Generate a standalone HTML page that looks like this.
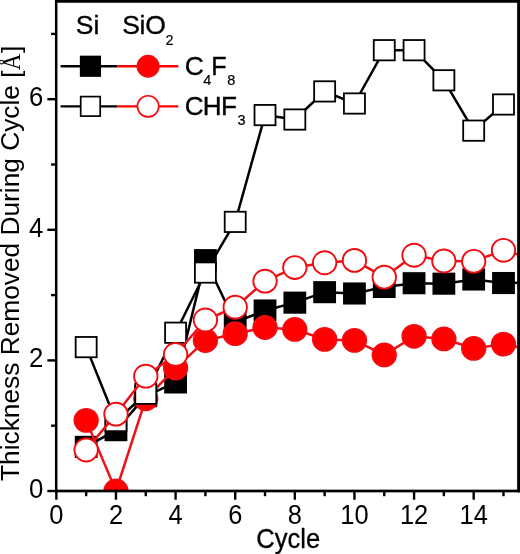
<!DOCTYPE html>
<html><head><meta charset="utf-8"><title>Thickness Removed During Cycle</title>
<style>
html,body{margin:0;padding:0;background:#fff;}
svg{display:block;}
text{font-family:"Liberation Sans",Arial,sans-serif;font-size:26.5px;fill:#000;}
</style></head><body>
<svg width="520" height="554" viewBox="0 0 520 554">
<defs><clipPath id="pc"><rect x="56.35" y="1.2" width="462.25" height="489.8"/></clipPath></defs>
<rect width="520" height="554" fill="#fff"/>
<g clip-path="url(#pc)">
<polyline points="86.16,446.86 115.97,430.18 145.78,396.17 175.59,382.44 205.40,260.14 235.21,322.27 265.02,310.50 294.83,302.65 324.64,292.18 354.45,293.49 384.26,286.95 414.07,283.22 443.88,283.68 473.69,279.50 503.50,283.03 533.31,282.70" fill="none" stroke="#000" stroke-width="2.5" stroke-linejoin="round"/>
<rect x="75.66" y="436.71" width="21.0" height="20.3" fill="#000" stroke="#000" stroke-width="1.8"/>
<rect x="105.47" y="420.03" width="21.0" height="20.3" fill="#000" stroke="#000" stroke-width="1.8"/>
<rect x="135.28" y="386.02" width="21.0" height="20.3" fill="#000" stroke="#000" stroke-width="1.8"/>
<rect x="165.09" y="372.29" width="21.0" height="20.3" fill="#000" stroke="#000" stroke-width="1.8"/>
<rect x="194.90" y="249.99" width="21.0" height="20.3" fill="#000" stroke="#000" stroke-width="1.8"/>
<rect x="224.71" y="312.12" width="21.0" height="20.3" fill="#000" stroke="#000" stroke-width="1.8"/>
<rect x="254.52" y="300.35" width="21.0" height="20.3" fill="#000" stroke="#000" stroke-width="1.8"/>
<rect x="284.33" y="292.50" width="21.0" height="20.3" fill="#000" stroke="#000" stroke-width="1.8"/>
<rect x="314.14" y="282.03" width="21.0" height="20.3" fill="#000" stroke="#000" stroke-width="1.8"/>
<rect x="343.95" y="283.34" width="21.0" height="20.3" fill="#000" stroke="#000" stroke-width="1.8"/>
<rect x="373.76" y="276.80" width="21.0" height="20.3" fill="#000" stroke="#000" stroke-width="1.8"/>
<rect x="403.57" y="273.07" width="21.0" height="20.3" fill="#000" stroke="#000" stroke-width="1.8"/>
<rect x="433.38" y="273.53" width="21.0" height="20.3" fill="#000" stroke="#000" stroke-width="1.8"/>
<rect x="463.19" y="269.35" width="21.0" height="20.3" fill="#000" stroke="#000" stroke-width="1.8"/>
<rect x="493.00" y="272.88" width="21.0" height="20.3" fill="#000" stroke="#000" stroke-width="1.8"/>
<polyline points="86.16,420.37 115.97,491.00 145.78,398.79 175.59,368.05 205.40,340.58 235.21,333.71 265.02,327.50 294.83,329.46 324.64,339.40 354.45,340.38 384.26,354.97 414.07,336.33 443.88,338.94 473.69,348.43 503.50,344.11 533.31,350.39" fill="none" stroke="#ee1018" stroke-width="2.5" stroke-linejoin="round"/>
<ellipse cx="86.16" cy="420.37" rx="11.7" ry="11.45" fill="#ff0000" stroke="#f20c10" stroke-width="1.9"/>
<ellipse cx="115.97" cy="491.00" rx="11.7" ry="11.45" fill="#ff0000" stroke="#f20c10" stroke-width="1.9"/>
<ellipse cx="145.78" cy="398.79" rx="11.7" ry="11.45" fill="#ff0000" stroke="#f20c10" stroke-width="1.9"/>
<ellipse cx="175.59" cy="368.05" rx="11.7" ry="11.45" fill="#ff0000" stroke="#f20c10" stroke-width="1.9"/>
<ellipse cx="205.40" cy="340.58" rx="11.7" ry="11.45" fill="#ff0000" stroke="#f20c10" stroke-width="1.9"/>
<ellipse cx="235.21" cy="333.71" rx="11.7" ry="11.45" fill="#ff0000" stroke="#f20c10" stroke-width="1.9"/>
<ellipse cx="265.02" cy="327.50" rx="11.7" ry="11.45" fill="#ff0000" stroke="#f20c10" stroke-width="1.9"/>
<ellipse cx="294.83" cy="329.46" rx="11.7" ry="11.45" fill="#ff0000" stroke="#f20c10" stroke-width="1.9"/>
<ellipse cx="324.64" cy="339.40" rx="11.7" ry="11.45" fill="#ff0000" stroke="#f20c10" stroke-width="1.9"/>
<ellipse cx="354.45" cy="340.38" rx="11.7" ry="11.45" fill="#ff0000" stroke="#f20c10" stroke-width="1.9"/>
<ellipse cx="384.26" cy="354.97" rx="11.7" ry="11.45" fill="#ff0000" stroke="#f20c10" stroke-width="1.9"/>
<ellipse cx="414.07" cy="336.33" rx="11.7" ry="11.45" fill="#ff0000" stroke="#f20c10" stroke-width="1.9"/>
<ellipse cx="443.88" cy="338.94" rx="11.7" ry="11.45" fill="#ff0000" stroke="#f20c10" stroke-width="1.9"/>
<ellipse cx="473.69" cy="348.43" rx="11.7" ry="11.45" fill="#ff0000" stroke="#f20c10" stroke-width="1.9"/>
<ellipse cx="503.50" cy="344.11" rx="11.7" ry="11.45" fill="#ff0000" stroke="#f20c10" stroke-width="1.9"/>
<polyline points="86.16,347.12 115.97,421.02 145.78,393.75 175.59,332.73 205.40,272.56 235.21,221.88 265.02,115.08 294.83,119.53 324.64,91.41 354.45,103.50 384.26,50.20 414.07,50.20 443.88,80.29 473.69,130.65 503.50,104.49" fill="none" stroke="#000" stroke-width="2.5" stroke-linejoin="round"/>
<rect x="75.66" y="336.97" width="21.0" height="20.3" fill="#fff" stroke="#000" stroke-width="1.8"/>
<rect x="105.47" y="410.87" width="21.0" height="20.3" fill="#fff" stroke="#000" stroke-width="1.8"/>
<rect x="135.28" y="383.60" width="21.0" height="20.3" fill="#fff" stroke="#000" stroke-width="1.8"/>
<rect x="165.09" y="322.58" width="21.0" height="20.3" fill="#fff" stroke="#000" stroke-width="1.8"/>
<rect x="194.90" y="262.41" width="21.0" height="20.3" fill="#fff" stroke="#000" stroke-width="1.8"/>
<rect x="224.71" y="211.73" width="21.0" height="20.3" fill="#fff" stroke="#000" stroke-width="1.8"/>
<rect x="254.52" y="104.93" width="21.0" height="20.3" fill="#fff" stroke="#000" stroke-width="1.8"/>
<rect x="284.33" y="109.38" width="21.0" height="20.3" fill="#fff" stroke="#000" stroke-width="1.8"/>
<rect x="314.14" y="81.26" width="21.0" height="20.3" fill="#fff" stroke="#000" stroke-width="1.8"/>
<rect x="343.95" y="93.35" width="21.0" height="20.3" fill="#fff" stroke="#000" stroke-width="1.8"/>
<rect x="373.76" y="40.05" width="21.0" height="20.3" fill="#fff" stroke="#000" stroke-width="1.8"/>
<rect x="403.57" y="40.05" width="21.0" height="20.3" fill="#fff" stroke="#000" stroke-width="1.8"/>
<rect x="433.38" y="70.14" width="21.0" height="20.3" fill="#fff" stroke="#000" stroke-width="1.8"/>
<rect x="463.19" y="120.50" width="21.0" height="20.3" fill="#fff" stroke="#000" stroke-width="1.8"/>
<rect x="493.00" y="94.34" width="21.0" height="20.3" fill="#fff" stroke="#000" stroke-width="1.8"/>
<polyline points="86.16,449.99 115.97,414.15 145.78,376.22 175.59,354.51 205.40,319.98 235.21,307.23 265.02,281.20 294.83,267.59 324.64,262.75 354.45,260.40 384.26,277.14 414.07,255.23 443.88,260.99 473.69,261.32 503.50,250.33 533.31,258.83" fill="none" stroke="#ee1018" stroke-width="2.5" stroke-linejoin="round"/>
<ellipse cx="86.16" cy="449.99" rx="11.7" ry="11.45" fill="#fff" stroke="#f20c10" stroke-width="1.9"/>
<ellipse cx="115.97" cy="414.15" rx="11.7" ry="11.45" fill="#fff" stroke="#f20c10" stroke-width="1.9"/>
<ellipse cx="145.78" cy="376.22" rx="11.7" ry="11.45" fill="#fff" stroke="#f20c10" stroke-width="1.9"/>
<ellipse cx="175.59" cy="354.51" rx="11.7" ry="11.45" fill="#fff" stroke="#f20c10" stroke-width="1.9"/>
<ellipse cx="205.40" cy="319.98" rx="11.7" ry="11.45" fill="#fff" stroke="#f20c10" stroke-width="1.9"/>
<ellipse cx="235.21" cy="307.23" rx="11.7" ry="11.45" fill="#fff" stroke="#f20c10" stroke-width="1.9"/>
<ellipse cx="265.02" cy="281.20" rx="11.7" ry="11.45" fill="#fff" stroke="#f20c10" stroke-width="1.9"/>
<ellipse cx="294.83" cy="267.59" rx="11.7" ry="11.45" fill="#fff" stroke="#f20c10" stroke-width="1.9"/>
<ellipse cx="324.64" cy="262.75" rx="11.7" ry="11.45" fill="#fff" stroke="#f20c10" stroke-width="1.9"/>
<ellipse cx="354.45" cy="260.40" rx="11.7" ry="11.45" fill="#fff" stroke="#f20c10" stroke-width="1.9"/>
<ellipse cx="384.26" cy="277.14" rx="11.7" ry="11.45" fill="#fff" stroke="#f20c10" stroke-width="1.9"/>
<ellipse cx="414.07" cy="255.23" rx="11.7" ry="11.45" fill="#fff" stroke="#f20c10" stroke-width="1.9"/>
<ellipse cx="443.88" cy="260.99" rx="11.7" ry="11.45" fill="#fff" stroke="#f20c10" stroke-width="1.9"/>
<ellipse cx="473.69" cy="261.32" rx="11.7" ry="11.45" fill="#fff" stroke="#f20c10" stroke-width="1.9"/>
<ellipse cx="503.50" cy="250.33" rx="11.7" ry="11.45" fill="#fff" stroke="#f20c10" stroke-width="1.9"/>
</g>
<rect x="54.95" y="0" width="2.5" height="492.35" fill="#000"/>
<rect x="54.95" y="0" width="465.05" height="2.75" fill="#000"/>
<rect x="517.15" y="0" width="2.85" height="492.35" fill="#000"/>
<rect x="54.95" y="489.65" width="465.05" height="2.7" fill="#000"/>
<line x1="56.35" y1="491.0" x2="56.35" y2="499.7" stroke="#000" stroke-width="2.4"/>
<line x1="86.16" y1="491.0" x2="86.16" y2="496.2" stroke="#000" stroke-width="2.4"/>
<line x1="115.97" y1="491.0" x2="115.97" y2="499.7" stroke="#000" stroke-width="2.4"/>
<line x1="145.78" y1="491.0" x2="145.78" y2="496.2" stroke="#000" stroke-width="2.4"/>
<line x1="175.59" y1="491.0" x2="175.59" y2="499.7" stroke="#000" stroke-width="2.4"/>
<line x1="205.40" y1="491.0" x2="205.40" y2="496.2" stroke="#000" stroke-width="2.4"/>
<line x1="235.21" y1="491.0" x2="235.21" y2="499.7" stroke="#000" stroke-width="2.4"/>
<line x1="265.02" y1="491.0" x2="265.02" y2="496.2" stroke="#000" stroke-width="2.4"/>
<line x1="294.83" y1="491.0" x2="294.83" y2="499.7" stroke="#000" stroke-width="2.4"/>
<line x1="324.64" y1="491.0" x2="324.64" y2="496.2" stroke="#000" stroke-width="2.4"/>
<line x1="354.45" y1="491.0" x2="354.45" y2="499.7" stroke="#000" stroke-width="2.4"/>
<line x1="384.26" y1="491.0" x2="384.26" y2="496.2" stroke="#000" stroke-width="2.4"/>
<line x1="414.07" y1="491.0" x2="414.07" y2="499.7" stroke="#000" stroke-width="2.4"/>
<line x1="443.88" y1="491.0" x2="443.88" y2="496.2" stroke="#000" stroke-width="2.4"/>
<line x1="473.69" y1="491.0" x2="473.69" y2="499.7" stroke="#000" stroke-width="2.4"/>
<line x1="503.50" y1="491.0" x2="503.50" y2="496.2" stroke="#000" stroke-width="2.4"/>
<line x1="56.35" y1="491.00" x2="47.35" y2="491.00" stroke="#000" stroke-width="2.4"/>
<line x1="56.35" y1="425.70" x2="51.050000000000004" y2="425.70" stroke="#000" stroke-width="2.4"/>
<line x1="56.35" y1="360.40" x2="47.35" y2="360.40" stroke="#000" stroke-width="2.4"/>
<line x1="56.35" y1="295.10" x2="51.050000000000004" y2="295.10" stroke="#000" stroke-width="2.4"/>
<line x1="56.35" y1="229.80" x2="47.35" y2="229.80" stroke="#000" stroke-width="2.4"/>
<line x1="56.35" y1="164.50" x2="51.050000000000004" y2="164.50" stroke="#000" stroke-width="2.4"/>
<line x1="56.35" y1="99.20" x2="47.35" y2="99.20" stroke="#000" stroke-width="2.4"/>
<line x1="56.35" y1="33.90" x2="51.050000000000004" y2="33.90" stroke="#000" stroke-width="2.4"/>
<text transform="translate(56.35,523.9) scale(0.96,1.04)" text-anchor="middle">0</text>
<text transform="translate(115.97,523.9) scale(0.96,1.04)" text-anchor="middle">2</text>
<text transform="translate(175.59,523.9) scale(0.96,1.04)" text-anchor="middle">4</text>
<text transform="translate(235.21,523.9) scale(0.96,1.04)" text-anchor="middle">6</text>
<text transform="translate(294.83,523.9) scale(0.96,1.04)" text-anchor="middle">8</text>
<text transform="translate(354.45,523.9) scale(0.96,1.04)" text-anchor="middle">10</text>
<text transform="translate(414.07,523.9) scale(0.96,1.04)" text-anchor="middle">12</text>
<text transform="translate(473.69,523.9) scale(0.96,1.04)" text-anchor="middle">14</text>
<text transform="translate(43.3,497.9) scale(0.97,1.04)" text-anchor="end">0</text>
<text transform="translate(43.3,367.3) scale(0.97,1.04)" text-anchor="end">2</text>
<text transform="translate(43.3,236.7) scale(0.97,1.04)" text-anchor="end">4</text>
<text transform="translate(43.3,106.1) scale(0.97,1.04)" text-anchor="end">6</text>
<text transform="translate(288.3,548) scale(0.965,1.04)" text-anchor="middle" stroke="#000" stroke-width="0.3">Cycle</text>
<text transform="translate(19.2,481) rotate(-90) scale(1,0.95)" text-anchor="start" style="font-size:26.3px">Thickness Removed During Cycle</text>
<text transform="translate(20.2,77.8) rotate(-90) scale(1,0.97)" text-anchor="start" style="font-size:26.3px">[</text>
<text transform="translate(20.4,61.9) rotate(-90) scale(1,1.05)" text-anchor="middle" style="font-family:'Liberation Serif',serif;font-size:23px">Å</text>
<text transform="translate(20.2,45.8) rotate(-90) scale(1,0.97)" text-anchor="end" style="font-size:26.3px">]</text>
<text transform="translate(75.7,34.2) scale(1,1.0)" text-anchor="start" stroke="#000" stroke-width="0.35">Si</text>
<text transform="translate(122.2,34.2) scale(1,1.0)" text-anchor="start" letter-spacing="-0.3" stroke="#000" stroke-width="0.35">SiO</text>
<text transform="translate(165.6,44.6) scale(1,1.0)" text-anchor="start" style="font-size:14.5px" stroke="#000" stroke-width="0.2">2</text>
<line x1="60.6" y1="66.25" x2="117.5" y2="66.25" stroke="#000" stroke-width="2.3"/>
<line x1="117.5" y1="66.25" x2="178.3" y2="66.25" stroke="#ff0000" stroke-width="2.3"/>
<rect x="80.7" y="56.5" width="19.5" height="19.5" fill="#000" stroke="#000" stroke-width="1.7"/>
<ellipse cx="148.1" cy="66.25" rx="10.7" ry="10.6" fill="#ff0000" stroke="#f20c10" stroke-width="1.7"/>
<line x1="60.6" y1="106.35" x2="117.5" y2="106.35" stroke="#000" stroke-width="2.3"/>
<line x1="117.5" y1="106.35" x2="178.3" y2="106.35" stroke="#ff0000" stroke-width="2.3"/>
<rect x="80.7" y="96.6" width="19.5" height="19.5" fill="#fff" stroke="#000" stroke-width="1.7"/>
<ellipse cx="148.1" cy="106.35" rx="10.7" ry="10.6" fill="#fff" stroke="#f20c10" stroke-width="1.7"/>
<text transform="translate(184.7,74.6) scale(1,1.0)" text-anchor="start" stroke="#000" stroke-width="0.35">C</text>
<text transform="translate(203.2,84.5) scale(1,1.0)" text-anchor="start" style="font-size:14.5px" stroke="#000" stroke-width="0.2">4</text>
<text transform="translate(211.2,74.6) scale(0.95,1.0)" text-anchor="start" stroke="#000" stroke-width="0.35">F</text>
<text transform="translate(227.2,84.5) scale(1,1.0)" text-anchor="start" style="font-size:14.5px" stroke="#000" stroke-width="0.2">8</text>
<text transform="translate(184.7,115.3) scale(0.985,1.0)" text-anchor="start" letter-spacing="-0.7" stroke="#000" stroke-width="0.35">CHF</text>
<text transform="translate(237.6,124.8) scale(1,1.0)" text-anchor="start" style="font-size:14.5px" stroke="#000" stroke-width="0.2">3</text>
</svg>
</body></html>
